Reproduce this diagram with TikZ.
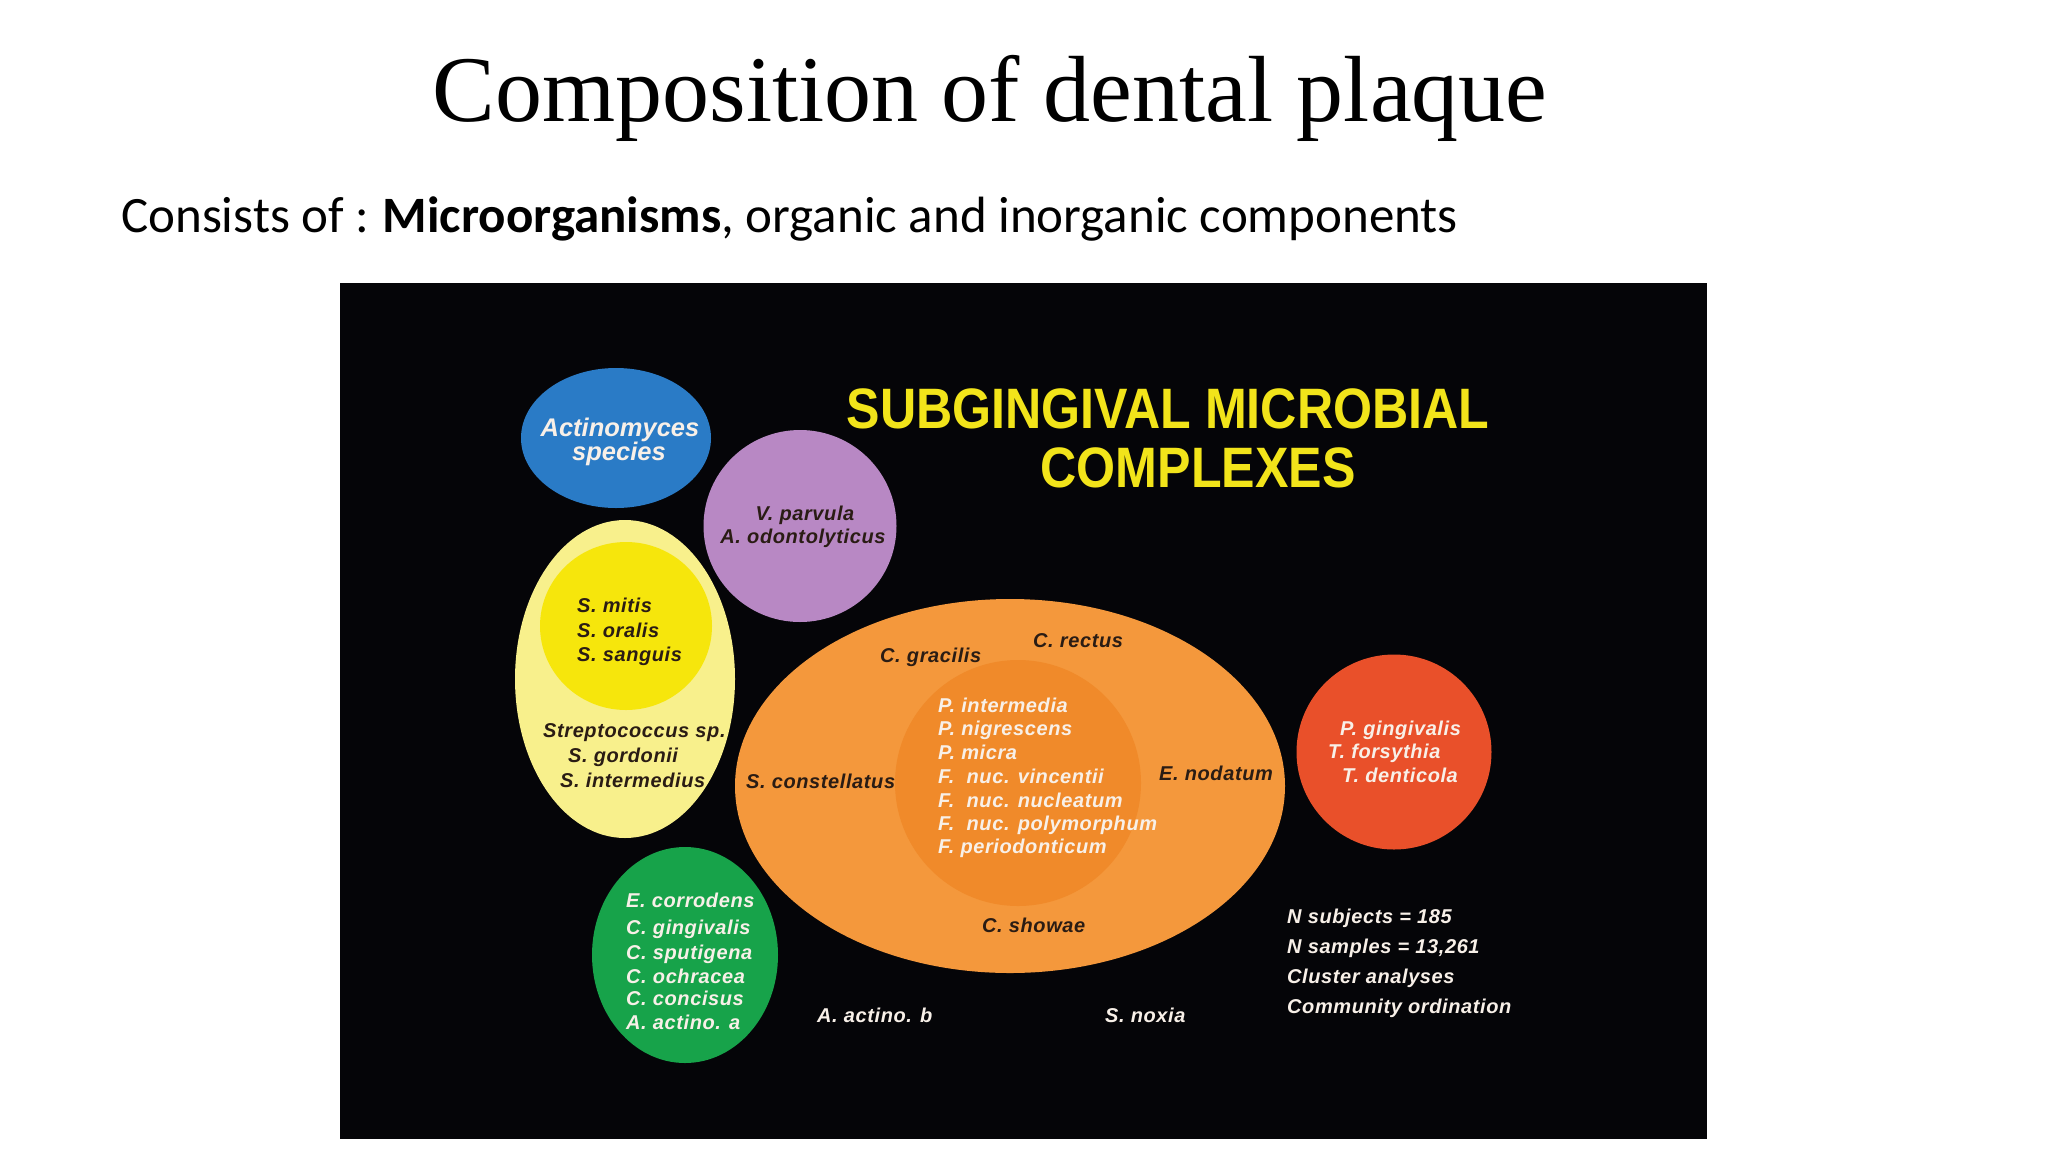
\documentclass[tikz,border=0pt]{standalone}
\usepackage{fontspec}
\usepackage{graphicx}
\usetikzlibrary{shapes.geometric}
\setmainfont{Liberation Serif}
\newfontfamily\calibf{Carlito}
\newfontfamily\spf[LetterSpace=3]{Liberation Sans}
\newfontfamily\arialf{Liberation Sans}
\definecolor{bgblack}{HTML}{050508}
\definecolor{cblue}{HTML}{2A7BC6}
\definecolor{cpurple}{HTML}{B888C4}
\definecolor{cpaleyel}{HTML}{F8F08C}
\definecolor{cyellow}{HTML}{F6E60C}
\definecolor{corange}{HTML}{F4983C}
\definecolor{corangein}{HTML}{F08A2A}
\definecolor{cred}{HTML}{E9502A}
\definecolor{cgreen}{HTML}{17A34A}
\definecolor{ctitle}{HTML}{F2E41A}
\definecolor{cdark}{HTML}{2A1C14}
\definecolor{cwhite}{HTML}{F8F0E8}
\tikzset{
  blob/.style={ellipse, inner sep=0pt, draw=none},
  sp/.style={inner sep=0pt, font=\spf\bfseries\itshape\fontsize{20}{25}\selectfont},
  spl/.style={sp, anchor=base west},
  spc/.style={sp, anchor=base},
}
\begin{document}
\begin{tikzpicture}[x=1pt,y=-1pt]
\useasboundingbox (0,0) rectangle (2048,1152);
\fill[white] (0,0) rectangle (2048,1152);
% headings
\node[inner sep=0pt, anchor=base, font=\fontsize{94}{100}\selectfont] (title) at (990,121) {Composition of dental plaque};
\node[inner sep=0pt, anchor=base west, font=\calibf\fontsize{51}{60}\selectfont] (sub) at (121,232) {Consists of :\kern-2pt{} \textbf{Microorganisms}, organic and inorganic components};
% black panel
\fill[bgblack] (340,283) rectangle (1707,1139);
\node[inner sep=0pt, anchor=base, text=ctitle, font=\arialf\bfseries\fontsize{57}{60}\selectfont] (t1) at (1168,428) {\scalebox{0.88}[1]{SUBGINGIVAL MICROBIAL}};
\node[inner sep=0pt, anchor=base, text=ctitle, font=\arialf\bfseries\fontsize{57}{60}\selectfont] (t2) at (1198,487) {\scalebox{0.88}[1]{COMPLEXES}};
% blue
\node[blob, fill=cblue, minimum width=190pt, minimum height=140pt] (blue) at (616,438) {};
\node[inner sep=0pt, anchor=base, text=cwhite, font=\arialf\bfseries\itshape\fontsize{25.5}{28}\selectfont] (bl1) at (620,436) {Actinomyces};
\node[inner sep=0pt, anchor=base, text=cwhite, font=\arialf\bfseries\itshape\fontsize{25.5}{28}\selectfont] (bl2) at (619,460) {species};
% purple
\node[blob, fill=cpurple, minimum width=193pt, minimum height=192pt] (purple) at (800,526) {};
\node[spc, text=cdark] (pu1) at (805,520) {V. parvula};
\node[spc, text=cdark] (pu2) at (803,543) {A. odontolyticus};
% yellow
\node[blob, fill=cpaleyel, minimum width=220pt, minimum height=318pt] (yelout) at (625,679) {};
\node[blob, fill=cyellow, minimum width=172pt, minimum height=168pt] (yelin) at (626,626) {};
\begin{scope}
\clip (625,679) ellipse [x radius=110, y radius=159];
\node[spl, text=cdark] (y1) at (577,612) {S. mitis};
\node[spl, text=cdark] (y2) at (577,637) {S. oralis};
\node[spl, text=cdark] (y3) at (577,661) {S. sanguis};
\node[spl, text=cdark] (y4) at (543,737) {Streptococcus sp.};
\node[spl, text=cdark] (y5) at (568,762) {S. gordonii};
\node[spl, text=cdark] (y6) at (560,787) {S. intermedius};
\end{scope}
% orange
\node[blob, fill=corange, minimum width=550pt, minimum height=374pt] (orange) at (1010,786) {};
\node[blob, fill=corangein, minimum width=246pt, minimum height=246pt] (orangein) at (1018,783) {};
\node[spl, text=cdark] (o1) at (880,662) {C. gracilis};
\node[spl, text=cdark] (o2) at (1033,647) {C. rectus};
\node[spl, text=cdark] (o3) at (746,788) {S. constellatus};
\node[spl, text=cdark] (o4) at (1159,780) {E. nodatum};
\node[spl, text=cdark] (o5) at (982,932) {C. showae};
\node[spl, text=cwhite] (i1) at (938,712) {P. intermedia};
\node[spl, text=cwhite] (i2) at (938,735) {P. nigrescens};
\node[spl, text=cwhite] (i3) at (938,759) {P. micra};
\node[spl, text=cwhite] (i4) at (938,783) {F.\ \ nuc. vincentii};
\node[spl, text=cwhite] (i5) at (938,807) {F.\ \ nuc. nucleatum};
\node[spl, text=cwhite] (i6) at (938,830) {F.\ \ nuc. polymorphum};
\node[spl, text=cwhite] (i7) at (938,853) {F. periodonticum};
% red
\node[blob, fill=cred, minimum width=195pt, minimum height=195pt] (red) at (1394,752) {};
\node[spl, text=cwhite] (r1) at (1340,735) {P. gingivalis};
\node[spl, text=cwhite] (r2) at (1328,758) {T. forsythia};
\node[spl, text=cwhite] (r3) at (1342,782) {T. denticola};
% green
\node[blob, fill=cgreen, minimum width=186pt, minimum height=216pt] (green) at (685,955) {};
\node[spl, text=cwhite] (g1) at (626,907) {E. corrodens};
\node[spl, text=cwhite] (g2) at (626,934) {C. gingivalis};
\node[spl, text=cwhite] (g3) at (626,959) {C. sputigena};
\node[spl, text=cwhite] (g4) at (626,983) {C. ochracea};
\node[spl, text=cwhite] (g5) at (626,1005) {C. concisus};
\node[spl, text=cwhite] (g6) at (626,1029) {A. actino. a};
% loose labels
\node[spl, text=cwhite] (ab) at (817,1022) {A. actino. b};
\node[spl, text=cwhite] (sn) at (1105,1022) {S. noxia};
% stats
\node[spl, text=cwhite] (s1) at (1287,923) {N subjects = 185};
\node[spl, text=cwhite] (s2) at (1287,953) {N samples = 13,261};
\node[spl, text=cwhite] (s3) at (1287,983) {Cluster analyses};
\node[spl, text=cwhite] (s4) at (1287,1013) {Community ordination};
\end{tikzpicture}
\end{document}
